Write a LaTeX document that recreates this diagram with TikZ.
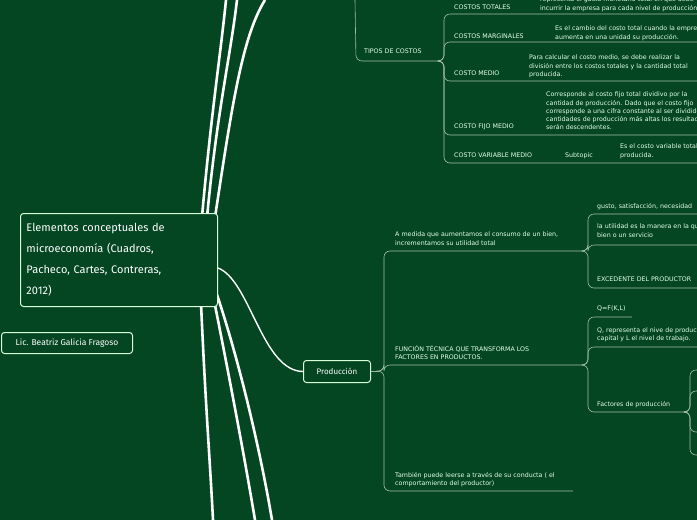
\documentclass[tikz,border=0pt]{standalone}
\usepackage{fontspec}
\setmainfont{DejaVu Sans}
\newfontfamily\titlefont{Fira Sans}
\begin{document}
\begin{tikzpicture}[x=1pt,y=-1pt,
  thk/.style={draw=white,line width=2.6pt},
  thn/.style={draw=lightln,line width=0.6pt,rounded corners=6pt},
  lbl/.style={anchor=north west,inner sep=0pt,text=white!90!green,font=\fontsize{6.3}{8.2}\selectfont,align=left},
  topicbox/.style={draw=white!85!green,line width=1pt,rounded corners=3pt,fill=bg,text=white,font=\titlefont}]
\definecolor{bg}{HTML}{044622}
\definecolor{lightln}{HTML}{A3BDA6}
\fill[bg] (0,0) rectangle (697,520);
\useasboundingbox (0,0) rectangle (697,520);
% thick connectors
\coordinate (t1) at (226,0); \coordinate (t2) at (237,0); \coordinate (t3) at (265,0);
\coordinate (b1) at (213,520); \coordinate (b2) at (255,520); \coordinate (b3) at (272,520);
\draw[thk] (200,240) .. controls (210,120) and (220,60) .. (t1);
\draw[thk] (205,240) .. controls (215,120) and (230,60) .. (t2);
\draw[thk] (210,250) .. controls (230,120) and (240,40) .. (t3);
\draw[thk] (200,280) .. controls (205,400) and (210,460) .. (b1);
\draw[thk] (210,280) .. controls (230,380) and (245,460) .. (b2);
\draw[thk] (212,280) .. controls (240,360) and (262,460) .. (b3);
\node[topicbox,anchor=north west,minimum width=197pt,minimum height=93pt,text width=185pt,align=left,font=\titlefont\fontsize{11}{21}\selectfont] (main) at (20,213) {Elementos conceptuales de\\microeconomía (Cuadros,\\Pacheco, Cartes, Contreras,\\2012)};
\node[topicbox,anchor=north west,minimum width=131pt,minimum height=21pt,font=\titlefont\fontsize{8.5}{9}\selectfont] (lic) at (1,332) {Lic. Beatriz Galicia Fragoso};
\node[topicbox,anchor=north west,minimum width=67pt,minimum height=22pt,font=\titlefont\fontsize{8}{9}\selectfont] (prod) at (303,360) {Producción};
\draw[thk,line width=1.4pt] (main.east |- 0,268) .. controls (250,280) and (262,371) .. (prod.west);
% TIPOS DE COSTOS
\node[lbl] (tipos) at (364,49) {TIPOS DE COSTOS};
\draw[thn] (355,0) -- (356,61) -- (440,61);
\coordinate (tj) at (440,61);
\node[lbl] (ct) at (454,5) {COSTOS TOTALES};
\node[lbl] (cm) at (454,34) {COSTOS MARGINALES};
\node[lbl] (cme) at (454,71) {COSTO MEDIO};
\node[lbl] (cfm) at (454,124) {COSTO FIJO MEDIO};
\node[lbl] (cvm) at (454,153) {COSTO VARIABLE MEDIO};
\node[lbl] (sub) at (565,153) {Subtopic};
\foreach \y in {14,42} \draw[thn] (tj) -- (444,61) -- (444,\y) -- (697,\y);
\draw[thn] (tj) -- (444,61) |- (697,81);
\draw[thn] (tj) -- (444,61) |- (697,135);
\draw[thn] (tj) -- (444,61) |- (697,163);
\node[lbl] (dct) at (540,-3) {representa el gasto monetario total en que debe\\incurrir la empresa para cada nivel de producción};
\node[lbl] (dcm) at (555,26) {Es el cambio del costo total cuando la empresa\\aumenta en una unidad su producción.};
\node[lbl] (dcme) at (529,55) {Para calcular el costo medio, se debe realizar la\\división entre los costos totales y la cantidad total\\producida.};
\node[lbl] (dcfm) at (546,92) {Corresponde al costo fijo total dividivo por la\\cantidad de producción. Dado que el costo fijo\\corresponde a una cifra constante al ser dividido\\cantidades de producción más altas los resultados\\serán descendentes.};
\node[lbl] (dcvm) at (620,144) {Es el costo variable total\\producida.};
% Producción branches
\coordinate (pj) at (prod.east);
\draw[thn] (pj) -- (384,371) -- (384,251) -- (583,251);
\draw[thn] (pj) -- (384,371) -- (384,365) -- (583,365);
\draw[thn] (pj) -- (384,371) |- (573,491);
\node[lbl] (amed) at (395,232) {A medida que aumentamos el consumo de un bien,\\incrementamos su utilidad total};
\node[lbl] (func) at (395,345) {FUNCIÓN TÉCNICA QUE TRANSFORMA LOS\\FACTORES EN PRODUCTOS.};
\node[lbl] (tamb) at (395,472) {También puede leerse a través de su conducta ( el\\comportamiento del productor)};
\coordinate (aj) at (583,251);
\draw[thn] (aj) -- (588,251) |- (697,214);
\draw[thn] (aj) -- (588,251) |- (697,245);
\draw[thn] (aj) -- (588,251) |- (697,288);
\node[lbl] (gus) at (597,203) {gusto, satisfacción, necesidad};
\node[lbl] (util) at (597,224) {la utilidad es la manera en la que\\bien o un servicio};
\node[lbl] (exc) at (597,277) {EXCEDENTE DEL PRODUCTOR};
\coordinate (fj) at (583,365);
\draw[thn] (fj) -- (588,365) |- (632,317);
\draw[thn] (fj) -- (588,365) |- (697,347);
\draw[thn] (fj) -- (588,365) |- (687,412);
\node[lbl] (q) at (597,306) {Q=F(K,L)};
\node[lbl] (qr) at (597,327) {Q, representa el nive de producción\\capital y L el nivel de trabajo.};
\node[lbl] (fac) at (597,401) {Factores de producción};
\coordinate (ffj) at (687,412);
\draw[thn] (ffj) -- (690,412) |- (697,370);
\draw[thn] (ffj) -- (690,412) |- (697,391);
\draw[thn] (ffj) -- (690,412) |- (697,432);
\draw[thn] (ffj) -- (690,412) |- (697,455);
\end{tikzpicture}
\end{document}
